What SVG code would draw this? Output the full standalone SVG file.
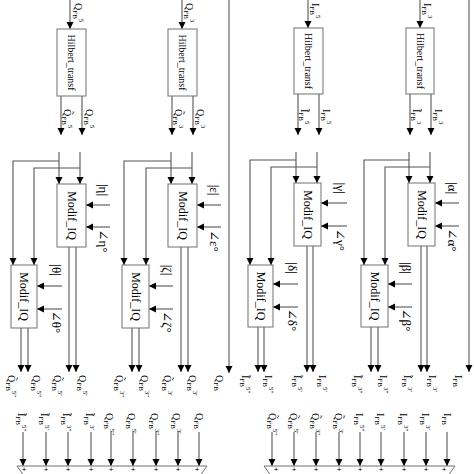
<svg xmlns="http://www.w3.org/2000/svg" width="474" height="474" viewBox="0 0 474 474">
<defs>
<marker id="ah" markerUnits="userSpaceOnUse" markerWidth="8" markerHeight="8" refX="7" refY="3.5" orient="auto"><path d="M0,0 L7,3.5 L0,7 z" fill="#000"/></marker>
</defs>
<style>
.box{fill:#fff;stroke:#707070;stroke-width:1}
.c{fill:none;stroke:#555;stroke-width:1.1;marker-end:url(#ah)}
.bt{font-family:"Liberation Serif",serif;font-size:10px;fill:#000}
.mt{font-family:"Liberation Serif",serif;font-size:12px;fill:#000}
.lb{font-family:"Liberation Serif","DejaVu Serif",serif;font-size:10px;fill:#000}
.gl{font-family:"Liberation Serif","DejaVu Serif",serif;font-size:13px;fill:#000}
.s{font-size:7px}
.pl{font-family:"Liberation Sans",sans-serif;font-size:8px;fill:#000}
</style>
<rect width="474" height="474" fill="#fff"/>

<g id="connectors">
<path class="c" d="M229,0 V373"/>
<path class="c" d="M469,0 V372"/>
<path class="c" d="M70,0 V29"/>
<path class="c" d="M182,0 V29"/>
<path class="c" d="M308,0 V28"/>
<path class="c" d="M420,0 V28"/>
<path class="c" d="M61,96 V135"/><path class="c" d="M82,96 V135"/>
<path class="c" d="M172,96 V135"/><path class="c" d="M193,96 V135"/>
<path class="c" d="M298,94 V135"/><path class="c" d="M319,94 V135"/>
<path class="c" d="M410,94 V135"/><path class="c" d="M431,94 V135"/>
<path class="c" d="M59,152 V184"/><path class="c" d="M80,152 V184"/>
<path class="c" d="M59,161 H13 V265"/><path class="c" d="M80,168 H34 V265"/>
<path class="c" d="M110,205 H86"/><path class="c" d="M110,227 H86"/>
<path class="c" d="M62,286 H37"/><path class="c" d="M62,309 H37"/>
<path class="c" d="M69,247 V372"/><path class="c" d="M76,247 V372"/>
<path class="c" d="M21,328 V372"/><path class="c" d="M28,328 V372"/>
<path class="c" d="M171,152 V184"/><path class="c" d="M192,152 V184"/>
<path class="c" d="M171,161 H124 V265"/><path class="c" d="M192,168 H146 V265"/>
<path class="c" d="M221,205 H197"/><path class="c" d="M221,227 H197"/>
<path class="c" d="M173,286 H149"/><path class="c" d="M173,309 H149"/>
<path class="c" d="M181,247 V372"/><path class="c" d="M188,247 V372"/>
<path class="c" d="M132,328 V372"/><path class="c" d="M139,328 V372"/>
<path class="c" d="M296,152 V183"/><path class="c" d="M317,152 V183"/>
<path class="c" d="M296,160 H250 V265"/><path class="c" d="M317,167 H271 V265"/>
<path class="c" d="M347,203 H321"/><path class="c" d="M347,226 H321"/>
<path class="c" d="M298,284 H273"/><path class="c" d="M298,307 H273"/>
<path class="c" d="M307,246 V372"/><path class="c" d="M313,246 V372"/>
<path class="c" d="M258,327 V372"/><path class="c" d="M264,327 V372"/>
<path class="c" d="M409,152 V183"/><path class="c" d="M430,152 V183"/>
<path class="c" d="M409,160 H364 V265"/><path class="c" d="M430,167 H385 V265"/>
<path class="c" d="M459,203 H435"/><path class="c" d="M459,226 H435"/>
<path class="c" d="M412,284 H388"/><path class="c" d="M412,307 H388"/>
<path class="c" d="M421,246 V372"/><path class="c" d="M427,246 V372"/>
<path class="c" d="M371,327 V372"/><path class="c" d="M378,327 V372"/>
<path class="c" d="M23,432 V466"/><path class="c" d="M46,432 V466"/><path class="c" d="M68,432 V466"/>
<path class="c" d="M91,432 V466"/><path class="c" d="M111,432 V466"/><path class="c" d="M133,432 V466"/>
<path class="c" d="M156,432 V466"/><path class="c" d="M178,432 V466"/><path class="c" d="M199,432 V466"/>
<path class="c" d="M272,432 V466"/><path class="c" d="M294,432 V466"/><path class="c" d="M316,432 V466"/>
<path class="c" d="M339,432 V466"/><path class="c" d="M360,432 V466"/><path class="c" d="M381,432 V466"/>
<path class="c" d="M404,432 V466"/><path class="c" d="M426,432 V466"/><path class="c" d="M447,432 V466"/>
</g>

<g id="hilbert1"><rect class="box" x="57" y="29" width="29" height="67"/><text class="bt" transform="translate(71.5,62.5) rotate(90)" text-anchor="middle" dominant-baseline="central">Hilbert_transf</text></g>
<g id="hilbert2"><rect class="box" x="168" y="29" width="29" height="67"/><text class="bt" transform="translate(182.5,62.5) rotate(90)" text-anchor="middle" dominant-baseline="central">Hilbert_transf</text></g>
<g id="hilbert3"><rect class="box" x="294" y="28" width="29" height="66"/><text class="bt" transform="translate(308.5,61) rotate(90)" text-anchor="middle" dominant-baseline="central">Hilbert_transf</text></g>
<g id="hilbert4"><rect class="box" x="406" y="28" width="28" height="66"/><text class="bt" transform="translate(420,61) rotate(90)" text-anchor="middle" dominant-baseline="central">Hilbert_transf</text></g>

<g id="modif_eta"><rect class="box" x="57" y="184" width="29" height="63"/><text class="mt" transform="translate(71.5,215.5) rotate(90)" text-anchor="middle" dominant-baseline="central">Modif_IQ</text></g>
<g id="modif_theta"><rect class="box" x="11" y="265" width="26" height="63"/><text class="mt" transform="translate(24,296.5) rotate(90)" text-anchor="middle" dominant-baseline="central">Modif_IQ</text></g>
<g id="modif_eps"><rect class="box" x="168" y="184" width="29" height="63"/><text class="mt" transform="translate(182.5,215.5) rotate(90)" text-anchor="middle" dominant-baseline="central">Modif_IQ</text></g>
<g id="modif_zeta"><rect class="box" x="122" y="265" width="27" height="63"/><text class="mt" transform="translate(135.5,296.5) rotate(90)" text-anchor="middle" dominant-baseline="central">Modif_IQ</text></g>
<g id="modif_gamma"><rect class="box" x="294" y="183" width="27" height="63"/><text class="mt" transform="translate(307.5,214.5) rotate(90)" text-anchor="middle" dominant-baseline="central">Modif_IQ</text></g>
<g id="modif_delta"><rect class="box" x="248" y="265" width="25" height="62"/><text class="mt" transform="translate(260.5,296) rotate(90)" text-anchor="middle" dominant-baseline="central">Modif_IQ</text></g>
<g id="modif_alpha"><rect class="box" x="408" y="183" width="27" height="63"/><text class="mt" transform="translate(421.5,214.5) rotate(90)" text-anchor="middle" dominant-baseline="central">Modif_IQ</text></g>
<g id="modif_beta"><rect class="box" x="361" y="265" width="27" height="62"/><text class="mt" transform="translate(374.5,296) rotate(90)" text-anchor="middle" dominant-baseline="central">Modif_IQ</text></g>

<g id="sum_Q"><path class="box" d="M17,466 H207 L197,480 H27 Z"/>
<text class="pl" text-anchor="middle" y="472"><tspan x="24">+</tspan><tspan x="46">+</tspan><tspan x="68">+</tspan><tspan x="91">+</tspan><tspan x="111">+</tspan><tspan x="133">+</tspan><tspan x="156">+</tspan><tspan x="178">+</tspan><tspan x="197">+</tspan></text></g>
<g id="sum_I"><path class="box" d="M264,466 H455 L445,480 H274 Z"/>
<text class="pl" text-anchor="middle" y="472"><tspan x="276">+</tspan><tspan x="294">+</tspan><tspan x="316">+</tspan><tspan x="339">+</tspan><tspan x="360">+</tspan><tspan x="381">+</tspan><tspan x="404">+</tspan><tspan x="426">+</tspan><tspan x="444">+</tspan></text></g>

<g id="labels">
<text class="lb" transform="translate(75,3) rotate(90)">Q<tspan class="s" dy="2">FB</tspan><tspan class="s" dy="-6">5</tspan></text>
<text class="lb" transform="translate(186,3) rotate(90)">Q<tspan class="s" dy="2">FB</tspan><tspan class="s" dy="-6">3</tspan></text>
<text class="lb" transform="translate(312,3) rotate(90)">I<tspan class="s" dy="2">FB</tspan><tspan class="s" dy="-6">5</tspan></text>
<text class="lb" transform="translate(424,3) rotate(90)">I<tspan class="s" dy="2">FB</tspan><tspan class="s" dy="-6">3</tspan></text>
<text class="lb" transform="translate(64,109) rotate(90)">Q̃<tspan class="s" dy="2">FB</tspan><tspan class="s" dy="-6">5</tspan></text>
<text class="lb" transform="translate(86,109) rotate(90)">Q<tspan class="s" dy="2">FB</tspan><tspan class="s" dy="-6">5</tspan></text>
<text class="lb" transform="translate(175,109) rotate(90)">Q̃<tspan class="s" dy="2">FB</tspan><tspan class="s" dy="-6">3</tspan></text>
<text class="lb" transform="translate(197,109) rotate(90)">Q<tspan class="s" dy="2">FB</tspan><tspan class="s" dy="-6">3</tspan></text>
<text class="lb" transform="translate(301,109) rotate(90)">Ĩ<tspan class="s" dy="2">FB</tspan><tspan class="s" dy="-6">5</tspan></text>
<text class="lb" transform="translate(323,109) rotate(90)">I<tspan class="s" dy="2">FB</tspan><tspan class="s" dy="-6">5</tspan></text>
<text class="lb" transform="translate(413,109) rotate(90)">Ĩ<tspan class="s" dy="2">FB</tspan><tspan class="s" dy="-6">3</tspan></text>
<text class="lb" transform="translate(435,109) rotate(90)">I<tspan class="s" dy="2">FB</tspan><tspan class="s" dy="-6">3</tspan></text>
<text class="gl" transform="translate(103,190) rotate(90)" text-anchor="middle" dominant-baseline="central">|η|</text>
<text class="gl" transform="translate(103,241) rotate(90)" text-anchor="middle" dominant-baseline="central">∠η°</text>
<text class="gl" transform="translate(56,270) rotate(90)" text-anchor="middle" dominant-baseline="central">|θ|</text>
<text class="gl" transform="translate(56,322) rotate(90)" text-anchor="middle" dominant-baseline="central">∠θ°</text>
<text class="gl" transform="translate(214,190) rotate(90)" text-anchor="middle" dominant-baseline="central">|ε|</text>
<text class="gl" transform="translate(214,241) rotate(90)" text-anchor="middle" dominant-baseline="central">∠ε°</text>
<text class="gl" transform="translate(167,270) rotate(90)" text-anchor="middle" dominant-baseline="central">|ζ|</text>
<text class="gl" transform="translate(167,322) rotate(90)" text-anchor="middle" dominant-baseline="central">∠ζ°</text>
<text class="gl" transform="translate(340,188) rotate(90)" text-anchor="middle" dominant-baseline="central">|γ|</text>
<text class="gl" transform="translate(340,240) rotate(90)" text-anchor="middle" dominant-baseline="central">∠γ°</text>
<text class="gl" transform="translate(292,268) rotate(90)" text-anchor="middle" dominant-baseline="central">|δ|</text>
<text class="gl" transform="translate(292,320) rotate(90)" text-anchor="middle" dominant-baseline="central">∠δ°</text>
<text class="gl" transform="translate(452,188) rotate(90)" text-anchor="middle" dominant-baseline="central">|α|</text>
<text class="gl" transform="translate(452,240) rotate(90)" text-anchor="middle" dominant-baseline="central">∠α°</text>
<text class="gl" transform="translate(406,268) rotate(90)" text-anchor="middle" dominant-baseline="central">|β|</text>
<text class="gl" transform="translate(406,320) rotate(90)" text-anchor="middle" dominant-baseline="central">∠β°</text>
<text class="lb" transform="translate(8,375) rotate(90)">Q̃<tspan class="s" dy="2">FB</tspan><tspan class="s" dy="-6">5″</tspan></text>
<text class="lb" transform="translate(33,375) rotate(90)">Q<tspan class="s" dy="2">FB</tspan><tspan class="s" dy="-6">5″</tspan></text>
<text class="lb" transform="translate(54,375) rotate(90)">Q̃<tspan class="s" dy="2">FB</tspan><tspan class="s" dy="-6">5′</tspan></text>
<text class="lb" transform="translate(79,375) rotate(90)">Q<tspan class="s" dy="2">FB</tspan><tspan class="s" dy="-6">5′</tspan></text>
<text class="lb" transform="translate(116,375) rotate(90)">Q̃<tspan class="s" dy="2">FB</tspan><tspan class="s" dy="-6">3″</tspan></text>
<text class="lb" transform="translate(141,375) rotate(90)">Q<tspan class="s" dy="2">FB</tspan><tspan class="s" dy="-6">3″</tspan></text>
<text class="lb" transform="translate(164,375) rotate(90)">Q̃<tspan class="s" dy="2">FB</tspan><tspan class="s" dy="-6">3′</tspan></text>
<text class="lb" transform="translate(189,375) rotate(90)">Q<tspan class="s" dy="2">FB</tspan><tspan class="s" dy="-6">3′</tspan></text>
<text class="lb" transform="translate(216,375) rotate(90)">Q<tspan class="s" dy="2">FB</tspan></text>
<text class="lb" transform="translate(242,375) rotate(90)">Ĩ<tspan class="s" dy="2">FB</tspan><tspan class="s" dy="-6">5″</tspan></text>
<text class="lb" transform="translate(265,375) rotate(90)">I<tspan class="s" dy="2">FB</tspan><tspan class="s" dy="-6">5″</tspan></text>
<text class="lb" transform="translate(294,375) rotate(90)">Ĩ<tspan class="s" dy="2">FB</tspan><tspan class="s" dy="-6">5′</tspan></text>
<text class="lb" transform="translate(319,375) rotate(90)">I<tspan class="s" dy="2">FB</tspan><tspan class="s" dy="-6">5′</tspan></text>
<text class="lb" transform="translate(354,375) rotate(90)">Ĩ<tspan class="s" dy="2">FB</tspan><tspan class="s" dy="-6">3″</tspan></text>
<text class="lb" transform="translate(380,375) rotate(90)">I<tspan class="s" dy="2">FB</tspan><tspan class="s" dy="-6">3″</tspan></text>
<text class="lb" transform="translate(404,375) rotate(90)">Ĩ<tspan class="s" dy="2">FB</tspan><tspan class="s" dy="-6">3′</tspan></text>
<text class="lb" transform="translate(429,375) rotate(90)">I<tspan class="s" dy="2">FB</tspan><tspan class="s" dy="-6">3′</tspan></text>
<text class="lb" transform="translate(455,375) rotate(90)">I<tspan class="s" dy="2">FB</tspan></text>
<text class="lb" transform="translate(18,413) rotate(90)">Ĩ<tspan class="s" dy="2">FB</tspan><tspan class="s" dy="-6">5″</tspan></text>
<text class="lb" transform="translate(41,413) rotate(90)">Ĩ<tspan class="s" dy="2">FB</tspan><tspan class="s" dy="-6">5′</tspan></text>
<text class="lb" transform="translate(63,413) rotate(90)">Ĩ<tspan class="s" dy="2">FB</tspan><tspan class="s" dy="-6">3″</tspan></text>
<text class="lb" transform="translate(86,413) rotate(90)">Ĩ<tspan class="s" dy="2">FB</tspan><tspan class="s" dy="-6">3′</tspan></text>
<text class="lb" transform="translate(106,413) rotate(90)">Q<tspan class="s" dy="2">FB</tspan><tspan class="s" dy="-6">5″</tspan></text>
<text class="lb" transform="translate(128,413) rotate(90)">Q<tspan class="s" dy="2">FB</tspan><tspan class="s" dy="-6">5′</tspan></text>
<text class="lb" transform="translate(151,413) rotate(90)">Q<tspan class="s" dy="2">FB</tspan><tspan class="s" dy="-6">3″</tspan></text>
<text class="lb" transform="translate(173,413) rotate(90)">Q<tspan class="s" dy="2">FB</tspan><tspan class="s" dy="-6">3′</tspan></text>
<text class="lb" transform="translate(196,413) rotate(90)">Q<tspan class="s" dy="2">FB</tspan></text>
<text class="lb" transform="translate(269,413) rotate(90)">Q̃<tspan class="s" dy="2">FB</tspan><tspan class="s" dy="-6">5″</tspan></text>
<text class="lb" transform="translate(290,413) rotate(90)">Q̃<tspan class="s" dy="2">FB</tspan><tspan class="s" dy="-6">5′</tspan></text>
<text class="lb" transform="translate(312,413) rotate(90)">Q̃<tspan class="s" dy="2">FB</tspan><tspan class="s" dy="-6">3″</tspan></text>
<text class="lb" transform="translate(335,413) rotate(90)">Q̃<tspan class="s" dy="2">FB</tspan><tspan class="s" dy="-6">3′</tspan></text>
<text class="lb" transform="translate(356,413) rotate(90)">I<tspan class="s" dy="2">FB</tspan><tspan class="s" dy="-6">5″</tspan></text>
<text class="lb" transform="translate(377,413) rotate(90)">I<tspan class="s" dy="2">FB</tspan><tspan class="s" dy="-6">5′</tspan></text>
<text class="lb" transform="translate(400,413) rotate(90)">I<tspan class="s" dy="2">FB</tspan><tspan class="s" dy="-6">3″</tspan></text>
<text class="lb" transform="translate(422,413) rotate(90)">I<tspan class="s" dy="2">FB</tspan><tspan class="s" dy="-6">3′</tspan></text>
<text class="lb" transform="translate(444,413) rotate(90)">I<tspan class="s" dy="2">FB</tspan></text>
</g>
</svg>
